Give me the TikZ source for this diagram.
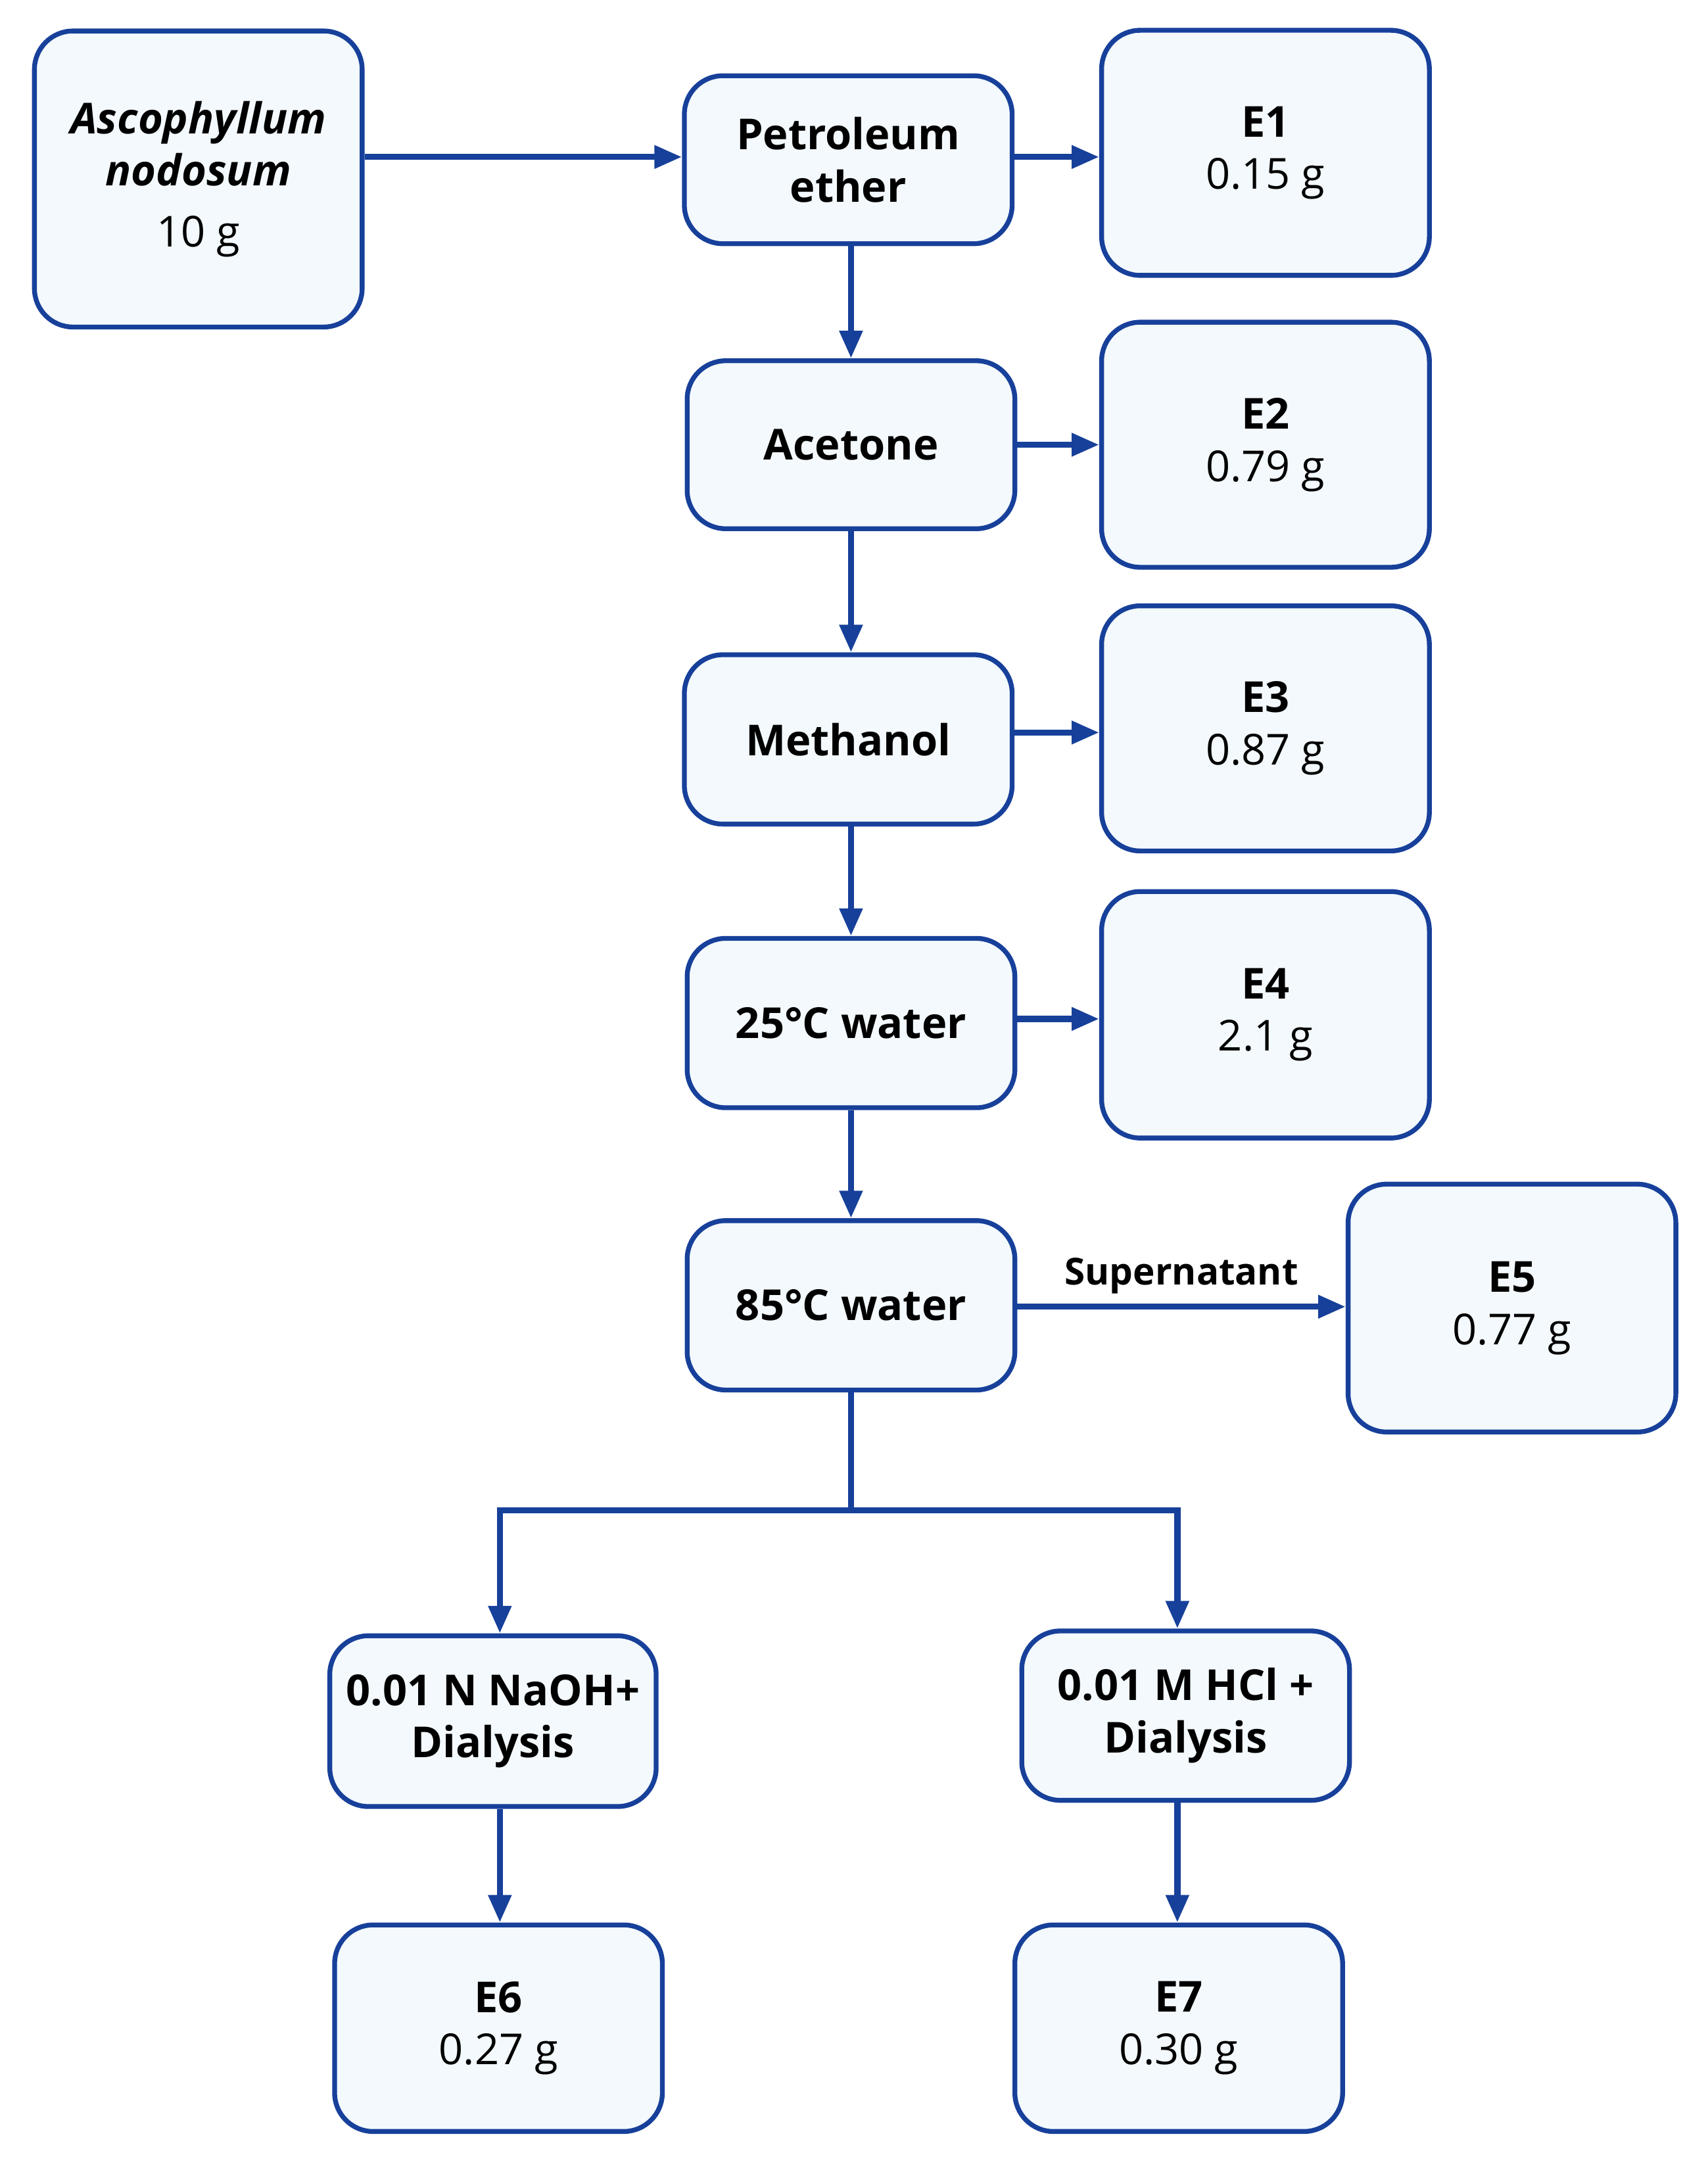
\documentclass[tikz,border=0pt]{standalone}
\usepackage{fontspec}
\setmainfont{Open Sans}
\usetikzlibrary{arrows.meta}
\definecolor{bl}{HTML}{17409A}
\definecolor{fl}{HTML}{F3F9FC}
\begin{document}
\begin{tikzpicture}[x=1pt,y=-1pt,
 box/.style={draw=bl,fill=fl,line width=3.5pt,rounded corners=28pt,inner sep=0pt,align=center,font=\fontsize{31}{38}\selectfont},
 ar/.style={draw=bl,line width=4.5pt,-{Triangle[length=20pt,width=16pt]}},
 ln/.style={draw=bl,line width=4.5pt}]
\useasboundingbox (0,0) rectangle (1240,1576);
\fill[white] (0,0) rectangle (1240,1576);
\newcommand\bx[6]{\node[box,minimum width=#3pt,minimum height=#4pt] (#1) at (#2) {#5};}
\bx{asc}{144,130}{238}{215}{\textbf{\textit{Ascophyllum}}\\\textbf{\textit{nodosum}}\\[6pt]10 g}{}
\bx{pet}{616,116}{238}{122}{\textbf{Petroleum}\\\textbf{ether}}{}
\bx{e1}{919,111}{238}{178}{\textbf{E1}\\0.15 g}{}
\bx{ace}{618,323}{238}{122}{\textbf{Acetone}}{}
\bx{e2}{919,323}{238}{178}{\textbf{E2}\\0.79 g}{}
\bx{met}{616,537}{238}{123}{\textbf{Methanol}}{}
\bx{e3}{919,529}{238}{178}{\textbf{E3}\\0.87 g}{}
\bx{w25}{618,743}{238}{123}{\textbf{25°C water}}{}
\bx{e4}{919,737}{238}{179}{\textbf{E4}\\2.1 g}{}
\bx{w85}{618,948}{238}{123}{\textbf{85°C water}}{}
\bx{e5}{1098,950}{238}{180}{\textbf{E5}\\0.77 g}{}
\bx{naoh}{358,1250}{237}{124}{\textbf{0.01 N NaOH+}\\\textbf{Dialysis}}{}
\bx{hcl}{861,1246}{238}{123}{\textbf{0.01 M HCl +}\\\textbf{Dialysis}}{}
\bx{e6}{362,1473}{238}{150}{\textbf{E6}\\0.27 g}{}
\bx{e7}{856,1473}{238}{150}{\textbf{E7}\\0.30 g}{}
\draw[ar] (asc.east|-0,114) -- (pet.west|-0,114);
\draw[ar] (pet.east|-0,114) -- (e1.west|-0,114);
\draw[ar] (ace.east|-0,323) -- (e2.west|-0,323);
\draw[ar] (met.east|-0,532) -- (e3.west|-0,532);
\draw[ar] (w25.east|-0,740) -- (e4.west|-0,740);
\draw[ar] (w85.east|-0,949) -- node[above=4pt,font=\fontsize{27}{32}\selectfont\bfseries]{Supernatant} (e5.west|-0,949);
\draw[ar] (pet.south-|618,0) -- (ace.north);
\draw[ar] (ace.south) -- (met.north-|618,0);
\draw[ar] (met.south-|618,0) -- (w25.north);
\draw[ar] (w25.south) -- (w85.north);
\coordinate (j) at (618,1097);
\draw[ln] (w85.south) -- (j);
\draw[ar] (j) -- (363,1097) -- (naoh.north-|363,0);
\draw[ar] (j) -- (855,1097) -- (hcl.north-|855,0);
\draw[ar] (naoh.south-|363,0) -- (e6.north-|363,0);
\draw[ar] (hcl.south-|855,0) -- (e7.north-|855,0);
\end{tikzpicture}
\end{document}
